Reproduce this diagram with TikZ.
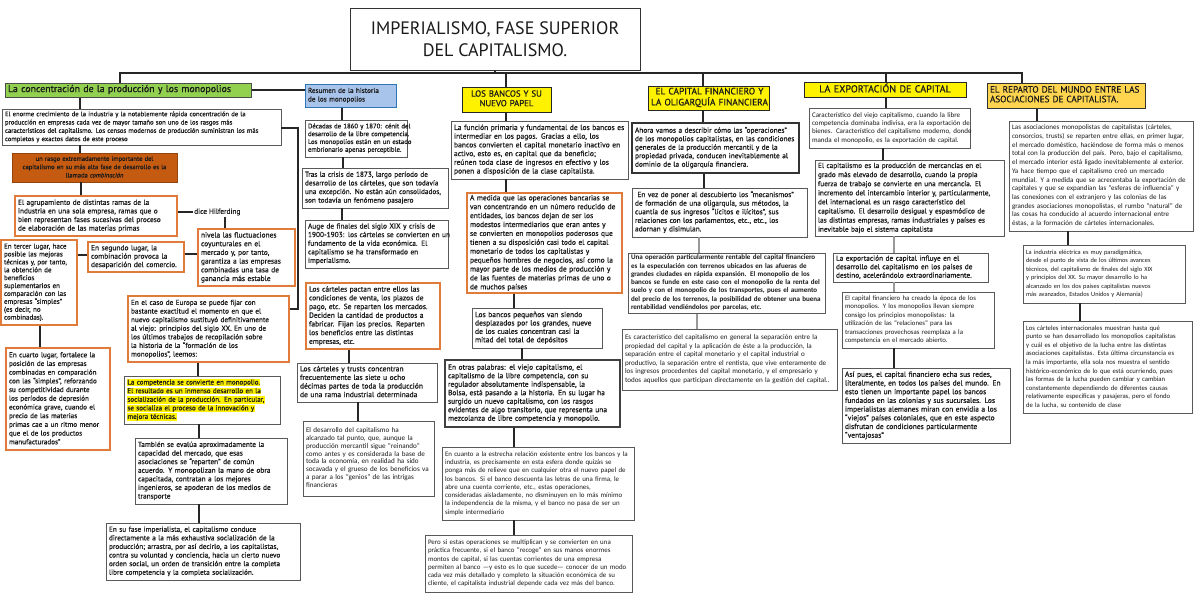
\documentclass[tikz,border=0pt]{standalone}
\usepackage{fontspec}
\setmainfont{PT Sans}
\newfontfamily\dinf[Scale=1.05,FakeBold=0.6]{PT Sans}
\newfontfamily\titlef{PT Sans}
\newfontfamily\carl[Scale=1.08]{Carlito}
\usetikzlibrary{calc}
\definecolor{obord}{HTML}{E07B39}
\definecolor{gbord}{HTML}{595959}
\definecolor{ofill}{HTML}{C55A11}
\definecolor{hgreen}{HTML}{92D050}
\definecolor{hblue}{HTML}{A9C4EB}
\definecolor{bblue}{HTML}{2E75B6}
\definecolor{hgold}{HTML}{FFD54F}
\definecolor{txt}{HTML}{1A1A1A}
\setlength{\fboxsep}{0.4pt}
\newcommand\hlt[1]{\colorbox{yellow}{#1}}
\tikzset{
  box/.style={rectangle, inner xsep=3pt, inner ysep=1pt, fill=white, text=txt, align=left},
  gb/.style={draw=gbord, line width=0.9pt},
  ob/.style={draw=obord, line width=1.1pt},
  hy/.style={draw=black!85, fill=yellow, line width=1pt, align=center},
  fa/.style 2 args={font=\fontsize{#1}{#2}\selectfont\dinf},
  fc/.style 2 args={font=\fontsize{#1}{#2}\selectfont\carl},
  fcb/.style 2 args={font=\fontsize{#1}{#2}\selectfont\carl\bfseries},
  conn/.style={draw=black!85, line width=1.1pt},
  lconn/.style={draw=black!40, line width=1.1pt},
}
\newcommand\mkbox[8][l]{%
  \pgfmathsetmacro\bxw{#5-#3}%
  \pgfmathsetmacro\bxh{#6-#4}%
  \pgfmathsetmacro\bxtw{#5-#3-6}%
  \pgfmathsetmacro\bxcx{(#3+#5)/2}%
  \pgfmathsetmacro\bxcy{(#4+#6)/2}%
  \node[box, #7, minimum width=\bxw pt, minimum height=\bxh pt, text width=\bxtw pt] (#2) at (\bxcx,\bxcy) {\begin{tabular}{@{}#1@{}}#8\end{tabular}};}
\begin{document}
\begin{tikzpicture}[x=1pt,y=-1pt]
\fill[white] (0,0) rectangle (1200,600);
\useasboundingbox (0,0) rectangle (1200,600);

% title
\node[draw=black!80, line width=1pt, minimum width=290pt, minimum height=62pt, align=center, text=txt,
  font=\fontsize{18}{22.5}\selectfont\titlef] (T) at (495,39) {IMPERIALISMO, FASE SUPERIOR\\DEL CAPITALISMO.};

% headers
\mkbox{H1}{5}{83}{251}{97}{draw=black!70, fill=hgreen, line width=1pt, fa={9.4}{10}}{La concentración de la producción y los monopolios}
\mkbox{HB}{305}{84}{396}{107}{draw=bblue, fill=hblue, line width=1pt, fa={6.8}{8.6}}{Resumen de la historia\\de los monopolios}
\mkbox[c]{H3}{462}{87}{551}{112}{hy, fa={8.4}{9.6}}{LOS BANCOS Y SU\\NUEVO PAPEL}
\mkbox[c]{H4}{648}{86}{769}{110}{hy, fa={8.9}{9.6}}{EL CAPITAL FINANCIERO Y\\LA OLIGARQUÍA FINANCIERA}
\mkbox[c]{H5}{804}{82}{966}{97}{hy, fa={9.6}{10}}{LA EXPORTACIÓN DE CAPITAL}
\mkbox{H6}{987}{83}{1145}{108}{draw=black!80, fill=hgold, line width=1pt, fa={8.7}{9.6}}{EL REPARTO DEL MUNDO ENTRE LAS\\ASOCIACIONES DE CAPITALISTA.}

% column 1
\mkbox{B1}{2}{109}{281}{145}{gb, fa={6.3}{8.3}}{El enorme crecimiento de la industria y la notablemente rápida concentración de la\\producción en empresas cada vez de mayor tamaño son uno de los rasgos más\\característicos del capitalismo. Los censos modernos de producción suministran los más\\completos y exactos datos de este proceso}
\mkbox[c]{B2}{12}{153}{177}{182}{draw=ofill!75!black, fill=ofill, line width=0.8pt, align=center, fa={6.2}{8.3}}{un rasgo extremadamente importante del\\capitalismo en su más alta fase de desarrollo es la\\llamada \textit{combinación}}
\mkbox{B3}{15}{196}{177}{236}{ob, fa={7}{8.6}}{El agrupamiento de distintas ramas de la\\industria en una sola empresa, ramas que o\\bien representan fases sucesivas del proceso\\de elaboración de las materias primas}
\node[fa={7}{8.6}, text=txt, anchor=west, inner sep=1pt] (Hf) at (193,212) {dice Hilferding};
\mkbox{B4}{198}{229}{295}{286}{ob, fa={7.1}{8.7}}{nivela las fluctuaciones\\coyunturales en el\\mercado y, por tanto,\\garantiza a las empresas\\combinadas una tasa de\\ganancia más estable}
\mkbox{B5}{88}{242}{184}{272}{ob, fa={7.1}{8.4}}{En segundo lugar, la\\combinación provoca la\\desaparición del comercio.}
\mkbox{B6}{1}{240}{77}{325}{ob, fa={6.7}{7.9}}{En tercer lugar, hace\\posible las mejoras\\técnicas y, por tanto,\\la obtención de\\beneficios\\suplementarios en\\comparación con las\\empresas “simples”\\(es decir, no\\combinadas).}
\mkbox{B7}{6}{348}{110}{450}{ob, fa={6.8}{8.7}}{En cuarto lugar, fortalece la\\posición de las empresas\\combinadas en comparación\\con las “simples”, reforzando\\su competitividad durante\\los períodos de depresión\\económica grave, cuando el\\precio de las materias\\primas cae a un ritmo menor\\que el de los productos\\manufacturados”}
\mkbox{B8}{128}{296}{289}{362}{ob, fa={6.9}{8.6}}{En el caso de Europa se puede fijar con\\bastante exactitud el momento en que el\\nuevo capitalismo sustituyó definitivamente\\al viejo: principios del siglo XX. En uno de\\los últimos trabajos de recopilación sobre\\la historia de la “formación de los\\monopolios”, leemos:}
\mkbox{B9}{124}{376}{280}{424}{gb, fa={6.7}{8.6}}{\hlt{La competencia se convierte en monopolio.}\\\hlt{El resultado es un inmenso desarrollo en la}\\\hlt{socialización de la producción. En particular,}\\\hlt{se socializa el proceso de la innovación y}\\\hlt{mejora técnicas.}}
\mkbox{B10}{135}{438}{287}{504}{gb, fa={7}{8.6}}{También se evalúa aproximadamente la\\capacidad del mercado, que esas\\asociaciones se “reparten” de común\\acuerdo. Y monopolizan la mano de obra\\capacitada, contratan a los mejores\\ingenieros, se apoderan de los medios de\\transporte}
\mkbox{B11}{106}{523}{300}{580}{gb, fa={6.9}{8.6}}{En su fase imperialista, el capitalismo conduce\\directamente a la más exhaustiva socialización de la\\producción; arrastra, por así decirlo, a los capitalistas,\\contra su voluntad y conciencia, hacia un cierto nuevo\\orden social, un orden de transición entre la completa\\libre competencia y la completa socialización.}

% column 2
\mkbox{C1}{305}{120}{407}{157}{gb, fa={6.4}{7.8}}{Décadas de 1860 y 1870: cénit del\\desarrollo de la libre competencia.\\Los monopolios están en un estado\\embrionario apenas perceptible.}
\mkbox{C2}{302}{168}{448}{208}{gb, fa={6.9}{8.6}}{Tras la crisis de 1873, largo período de\\desarrollo de los cárteles, que son todavía\\una excepción. No están aún consolidados,\\son todavía un fenómeno pasajero}
\mkbox{C3}{305}{220}{448}{268}{gb, fa={7}{8.6}}{Auge de finales del siglo XIX y crisis de\\1900-1903: los cárteles se convierten en un\\fundamento de la vida económica. El\\capitalismo se ha transformado en\\imperialismo.}
\mkbox{C4}{306}{283}{440}{349}{ob, fa={7.1}{8.7}}{Los cárteles pactan entre ellos las\\condiciones de venta, los plazos de\\pago, etc. Se reparten los mercados.\\Deciden la cantidad de productos a\\fabricar. Fijan los precios. Reparten\\los beneficios entre las distintas\\empresas, etc.}
\mkbox{C5}{297}{363}{437}{402}{gb, fa={7.2}{8.6}}{Los cárteles y trusts concentran\\frecuentemente las siete u ocho\\décimas partes de toda la producción\\de una rama industrial determinada}
\mkbox{C6}{303}{421}{434}{496}{gb, fc={6.6}{7.8}}{El desarrollo del capitalismo ha\\alcanzado tal punto, que, aunque la\\producción mercantil sigue “reinando”\\como antes y es considerada la base de\\toda la economía, en realidad ha sido\\socavada y el grueso de los beneficios va\\a parar a los “genios” de las intrigas\\financieras}

% column 3
\mkbox{D1}{451}{121}{628}{179}{gb, fa={7.2}{8.7}}{La función primaria y fundamental de los bancos es\\intermediar en los pagos. Gracias a ello, los\\bancos convierten el capital monetario inactivo en\\activo, esto es, en capital que da beneficio;\\reúnen toda clase de ingresos en efectivo y los\\ponen a disposición de la clase capitalista.}
\mkbox{D2}{467}{193}{622}{293}{ob, fa={7.1}{8.9}}{A medida que las operaciones bancarias se\\van concentrando en un número reducido de\\entidades, los bancos dejan de ser los\\modestos intermediarios que eran antes y\\se convierten en monopolios poderosos que\\tienen a su disposición casi todo el capital\\monetario de todos los capitalistas y\\pequeños hombres de negocios, así como la\\mayor parte de los medios de producción y\\de las fuentes de materias primas de uno o\\de muchos países}
\mkbox{D3}{472}{308}{602}{348}{gb, fa={7.2}{8.4}}{Los bancos pequeños van siendo\\desplazados por los grandes, nueve\\de los cuales concentran casi la\\mitad del total de depósitos}
\mkbox{D4}{445}{360}{620}{427}{draw=black!75, line width=1.1pt, fa={7.1}{8.5}}{En otras palabras: el viejo capitalismo, el\\capitalismo de la libre competencia, con su\\regulador absolutamente indispensable, la\\Bolsa, está pasando a la historia. En su lugar ha\\surgido un nuevo capitalismo, con los rasgos\\evidentes de algo transitorio, que representa una\\mezcolanza de libre competencia y monopolio.}
\mkbox{D5}{442}{447}{634}{520}{gb, fc={6.4}{8.3}}{En cuanto a la estrecha relación existente entre los bancos y la\\industria, es precisamente en esta esfera donde quizás se\\ponga más de relieve que en cualquier otra el nuevo papel de\\los bancos. Si el banco descuenta las letras de una firma, le\\abre una cuenta corriente, etc., estas operaciones,\\consideradas aisladamente, no disminuyen en lo más mínimo\\la independencia de la misma, y el banco no pasa de ser un\\simple intermediario}
\mkbox{D6}{425}{535}{632}{592}{gb, fc={6.4}{8.3}}{Pero si estas operaciones se multiplican y se convierten en una\\práctica frecuente, si el banco “recoge” en sus manos enormes\\montos de capital, si las cuentas corrientes de una empresa\\permiten al banco —y esto es lo que sucede— conocer de un modo\\cada vez más detallado y completo la situación económica de su\\cliente, el capitalista industrial depende cada vez más del banco.}

% column 4
\mkbox{E1}{632}{123}{799}{173}{draw=black!80, line width=1.5pt, fa={7}{8.5}}{Ahora vamos a describir cómo las “operaciones”\\de los monopolios capitalistas, en las condiciones\\generales de la producción mercantil y de la\\propiedad privada, conducen inevitablemente al\\dominio de la oligarquía financiera.}
\mkbox{E2}{632}{188}{807}{237}{gb, fa={7}{8.6}}{\ En vez de poner al descubierto los “mecanismos”\\de formación de una oligarquía, sus métodos, la\\cuantía de sus ingresos “lícitos e ilícitos”, sus\\relaciones con los parlamentos, etc., etc., los\\adornan y disimulan.}
\mkbox{E3}{628}{253}{825}{313}{gb, fcb={6.5}{8.3}}{Una operación particularmente rentable del capital financiero\\es la especulación con terrenos ubicados en las afueras de\\grandes ciudades en rápida expansión. El monopolio de los\\bancos se funde en este caso con el monopolio de la renta del\\suelo y con el monopolio de los transportes, pues el aumento\\del precio de los terrenos, la posibilidad de obtener una buena\\rentabilidad vendiéndolos por parcelas, etc.}
\mkbox{E4}{622}{329}{837}{390}{gb, fc={6.55}{8.5}}{Es característico del capitalismo en general la separación entre la\\propiedad del capital y la aplicación de éste a la producción, la\\separación entre el capital monetario y el capital industrial o\\productivo, la separación entre el rentista, que vive enteramente de\\los ingresos procedentes del capital monetario, y el empresario y\\todos aquellos que participan directamente en la gestión del capital..}

% column 5
\mkbox{F1}{809}{108}{970}{148}{gb, fc={6.5}{8.3}}{Característico del viejo capitalismo, cuando la libre\\competencia dominaba indivisa, era la exportación de\\bienes. Característico del capitalismo moderno, donde\\manda el monopolio, es la exportación de capital.}
\mkbox{F2}{815}{160}{1004}{236}{gb, fa={6.9}{9.1}}{El capitalismo es la producción de mercancías en el\\grado más elevado de desarrollo, cuando la propia\\fuerza de trabajo se convierte en una mercancía. El\\incremento del intercambio interior y, particularmente,\\del internacional es un rasgo característico del\\capitalismo. El desarrollo desigual y espasmódico de\\las distintas empresas, ramas industriales y países es\\inevitable bajo el sistema capitalista}
\mkbox{F3}{833}{253}{988}{282}{gb, fa={7}{8.5}}{La exportación de capital influye en el\\desarrollo del capitalismo en los países de\\destino, acelerándolo extraordinariamente.}
\mkbox{F4}{842}{292}{994}{348}{gb, fc={6.3}{8.5}}{El capital financiero ha creado la época de los\\monopolios. Y los monopolios llevan siempre\\consigo los principios monopolistas: la\\utilización de las “relaciones” para las\\transacciones provechosas reemplaza a la\\competencia en el mercado abierto.}
\mkbox{F5}{842}{368}{1010}{443}{gb, fa={7.1}{8.7}}{Así pues, el capital financiero echa sus redes,\\literalmente, en todos los países del mundo. En\\esto tienen un importante papel los bancos\\fundados en las colonias y sus sucursales. Los\\imperialistas alemanes miran con envidia a los\\“viejos” países coloniales, que en este aspecto\\disfrutan de condiciones particularmente\\“ventajosas”}

% column 6
\mkbox{G1}{1009}{121}{1193}{231}{gb, fc={6.5}{8.7}}{Las asociaciones monopolistas de capitalistas (cárteles,\\consorcios, trusts) se reparten entre ellas, en primer lugar,\\el mercado doméstico, haciéndose de forma más o menos\\total con la producción del país. Pero, bajo el capitalismo,\\el mercado interior está ligado inevitablemente al exterior.\\Ya hace tiempo que el capitalismo creó un mercado\\mundial. Y a medida que se acrecentaba la exportación de\\capitales y que se expandían las “esferas de influencia” y\\las conexiones con el extranjero y las colonias de las\\grandes asociaciones monopolistas, el rumbo “natural” de\\las cosas ha conducido al acuerdo internacional entre\\éstas, a la formación de cárteles internacionales.}
\mkbox{G2}{1023}{245}{1185}{303}{gb, fc={5.9}{8.5}}{La industria eléctrica es muy paradigmática,\\desde el punto de vista de los últimos avances\\técnicos, del capitalismo de finales del siglo XIX\\y principios del XX. Su mayor desarrollo lo ha\\alcanzado en los dos países capitalistas nuevos\\más avanzados, Estados Unidos y Alemania)}
\mkbox{G3}{1023}{321}{1192}{413}{gb, fc={6.2}{8.6}}{Los cárteles internacionales muestran hasta qué\\punto se han desarrollado los monopolios capitalistas\\y cuál es el objetivo de la lucha entre las distintas\\asociaciones capitalistas. Esta última circunstancia es\\la más importante, ella sola nos muestra el sentido\\histórico-económico de lo que está ocurriendo, pues\\las formas de la lucha pueden cambiar y cambian\\constantemente dependiendo de diferentes causas\\relativamente específicas y pasajeras, pero el fondo\\de la lucha, su contenido de clase}

% top bus
\draw[conn] (T.south) -- (T.south |- 0,73);
\draw[conn] (H1.north -| 120,0) -- (120,73) -- (1022,73) -- (H6.north -| 1022,0);
\draw[conn] (H3.north -| 506,0) -- (506,73);
\draw[conn] (H4.north -| 703,0) -- (703,73);
\draw[conn] (H5.north -| 886,0) -- (886,73);

% column 1 connectors
\draw[conn] (H1.south -| 80,0) -- (B1.north -| 80,0);
\draw[conn] (B1.south -| 80,0) -- (B2.north -| 80,0);
\draw[conn] (B2.south -| 81,0) -- (B3.north -| 81,0);
\draw[conn] (B3.east |- 0,212) -- (Hf.west);
\draw[conn] (Hf.south -| 225,0) -- (B4.north -| 225,0);
\draw[conn] (B5.east |- 0,254) -- (B4.west |- 0,254);
\draw[conn] (B6.east |- 0,255) -- (B5.west |- 0,255);
\draw[conn] (B6.south -| 40,0) -- (B7.north -| 40,0);
\draw[conn] (B1.east |- 0,128) -| (298,309) -- (B8.east |- 0,309);
\draw[conn] (B8.south -| 198,0) -- (B9.north -| 198,0);
\draw[conn] (B9.south -| 199,0) -- (B10.north -| 199,0);
\draw[conn] (B10.south -| 199,0) -- (B11.north -| 199,0);

% column 2 connectors
\draw[conn] (H1.east |- 0,90) -- (HB.west |- 0,90);
\draw[conn] (HB.south -| 342,0) -- (C1.north -| 342,0);
\draw[conn] (C1.south -| 343,0) -- (C2.north -| 343,0);
\draw[conn] (C2.south -| 342,0) -- (C3.north -| 342,0);
\draw[conn] (C4.south -| 349,0) -- (C5.north -| 349,0);
\draw[conn] (C5.south -| 358,0) -- (C6.north -| 358,0);

% column 3 connectors
\draw[conn] (H3.south -| 506,0) -- (D1.north -| 506,0);
\draw[conn] (D1.south -| 506,0) -- (D2.north -| 506,0);
\draw[conn] (D2.south -| 514,0) -- (D3.north -| 514,0);
\draw[conn] (D3.south -| 522,0) -- (D4.north -| 522,0);
\draw[conn] (D4.south -| 514,0) -- (D5.north -| 514,0);
\draw[conn] (D5.south -| 514,0) -- (D6.north -| 514,0);

% column 4 connectors
\draw[conn] (H4.south -| 703,0) -- (E1.north -| 703,0);
\draw[conn] (E1.south -| 704,0) -- (E2.north -| 704,0);
\draw[lconn] (E2.south -| 699,0) -- (E3.north -| 699,0);
\draw[lconn] (E3.south -| 697,0) -- (E4.north -| 697,0);

% column 5 connectors
\draw[conn] (H5.south -| 886,0) -- (F1.north -| 886,0);
\draw[conn] (F1.south -| 883,0) -- (F2.north -| 883,0);
\draw[lconn] (F2.south -| 894,0) -- (F3.north -| 894,0);
\draw[lconn] (F3.south -| 894,0) -- (F4.north -| 894,0);
\draw[conn] (F4.south -| 894,0) -- (F5.north -| 894,0);

% column 6 connectors
\draw[conn] (H6.south -| 1037,0) -- (G1.north -| 1037,0);
\draw[conn] (G1.south -| 1068,0) -- (G2.north -| 1068,0);
\draw[conn] (G2.south -| 1080,0) -- (G3.north -| 1080,0);
\end{tikzpicture}
\end{document}
